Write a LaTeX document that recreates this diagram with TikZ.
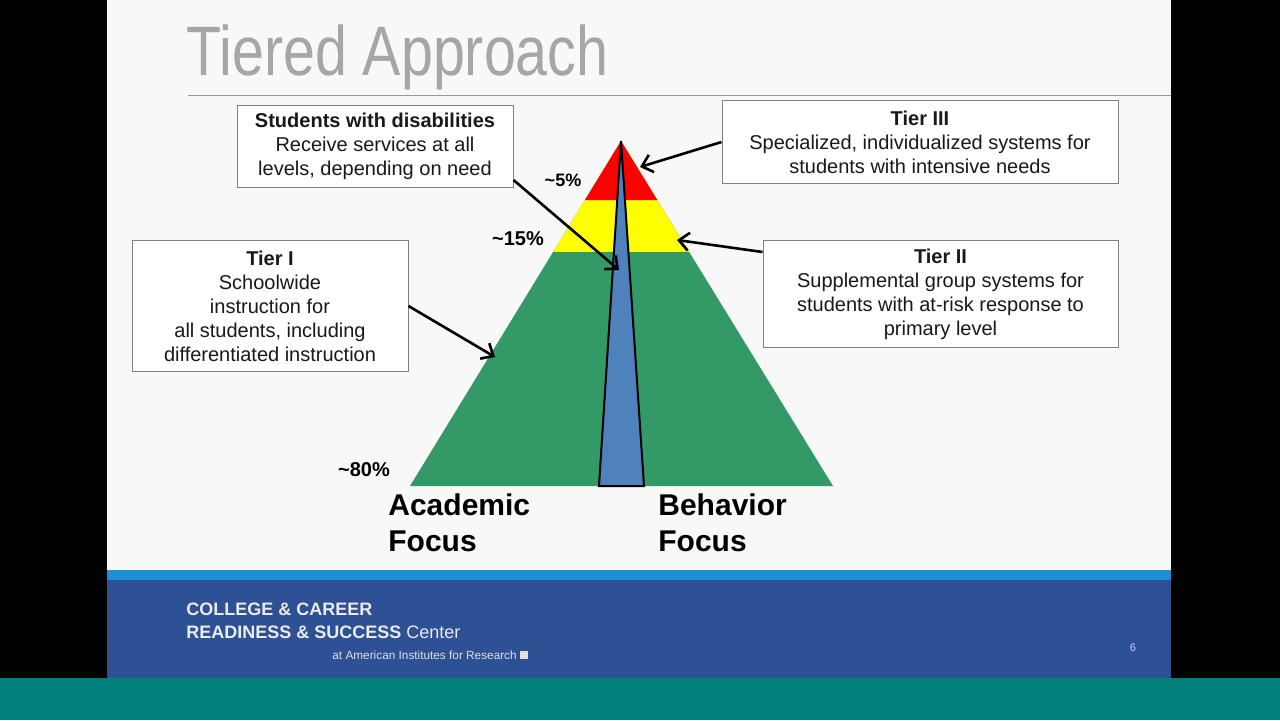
\documentclass[tikz,border=0pt]{standalone}
\usepackage{fontspec}
\setmainfont{Liberation Sans}
\newfontfamily\titlefont[FakeStretch=0.82]{Liberation Sans}
\usetikzlibrary{arrows.meta,calc}
\definecolor{slidebg}{HTML}{F8F8F8}
\definecolor{tiergreen}{HTML}{339966}
\definecolor{tieryellow}{HTML}{FFFF00}
\definecolor{tierred}{HTML}{FF0000}
\definecolor{wedgeblue}{HTML}{4F81BD}
\definecolor{stripeblue}{HTML}{1E8FD2}
\definecolor{footblue}{HTML}{2E5094}
\definecolor{footteal}{HTML}{007F7D}

\begin{document}
\begin{tikzpicture}[x=0.5pt,y=-0.5pt,
    infobox/.style={draw=black!50, fill=white, line width=0.5pt, align=center, inner sep=2pt, text=black!90, font=\fontsize{10}{12}\selectfont},
    pointer/.style={-{Straight Barb[length=5pt,width=9pt]}, line width=1.3pt},
    pct/.style={font=\bfseries\fontsize{10}{11}\selectfont, inner sep=0pt},
    focus/.style={font=\bfseries\fontsize{15}{18}\selectfont, align=left, anchor=west, inner sep=0pt}]
    \useasboundingbox (0,0) rectangle (1280,720);
    \fill[black] (0,0) rectangle (1280,720);
    \fill[slidebg] (107,0) rectangle (1171,570);
    \fill[stripeblue] (107,570) rectangle (1171,580);
    \fill[footblue] (107,580) rectangle (1171,678);
    \fill[footteal] (0,678) rectangle (1280,720);

    \node[anchor=base west, inner sep=0pt, text=black!35, font=\titlefont\fontsize{35}{40}\selectfont] (title) at (186,75) {Tiered Approach};
    \draw[black!40, line width=0.5pt] (188,95) -- (1171,95);

    \coordinate (apex) at (621,141);
    \coordinate (baseL) at (410,486);
    \coordinate (baseR) at (833,486);
    \fill[tiergreen] (apex) -- (baseL) -- (baseR) -- cycle;
    \fill[tieryellow] (apex) -- ($(apex)!0.3217!(baseL)$) -- ($(apex)!0.3217!(baseR)$) -- cycle;
    \fill[tierred] (apex) -- ($(apex)!0.171!(baseL)$) -- ($(apex)!0.171!(baseR)$) -- cycle;
    \draw[line width=1pt, fill=wedgeblue] (apex) -- (599,486) -- (644,486) -- cycle;

    \node[pct, font=\bfseries\fontsize{9}{10}\selectfont] (p5) at (563,180) {\textasciitilde5\%};
    \node[pct] (p15) at (518,239) {\textasciitilde15\%};
    \node[pct] (p80) at (364,470) {\textasciitilde80\%};

    \node[focus] (acad) at (388,523) {Academic\\Focus};
    \node[focus] (behav) at (658,523) {Behavior\\Focus};

    \node[infobox, minimum width=138pt, minimum height=41pt] (sd) at (375,146)
        {\textbf{Students with disabilities}\\Receive services at all\\levels, depending on need};
    \node[infobox, minimum width=198pt, minimum height=41.5pt] (t3) at (920,142)
        {\textbf{Tier III}\\Specialized, individualized systems for\\students with intensive needs};
    \node[infobox, minimum width=138pt, minimum height=65.5pt] (t1) at (270,306)
        {\textbf{Tier I}\\Schoolwide\\instruction for\\all students, including\\differentiated instruction};
    \node[infobox, minimum width=177.5pt, minimum height=53.5pt] (t2) at (940.5,294)
        {\textbf{Tier II}\\Supplemental group systems for\\students with at-risk response to\\primary level};

    \coordinate (sdtip) at (619,270);
    \coordinate (t3tip) at (640,167);
    \coordinate (t2tip) at (677,240);
    \coordinate (t1tip) at (495,357);
    \draw[pointer] ([yshift=-17pt]sd.east) -- (sdtip);
    \draw[pointer] (t3.west) -- (t3tip);
    \draw[pointer] ([yshift=-6pt]t2.north west) -- (t2tip);
    \draw[pointer] (t1.east) -- (t1tip);

    \node[anchor=base west, inner sep=0pt, text=white!92!black, font=\bfseries\fontsize{9}{10}\selectfont] (cc) at (186,615) {COLLEGE \& CAREER};
    \node[anchor=base west, inner sep=0pt, text=white!92!black, font=\fontsize{9}{10}\selectfont] (rs) at (186,638) {\textbf{READINESS \& SUCCESS} Center};
    \node[anchor=base east, inner sep=0pt, text=white!88!black, font=\fontsize{5.9}{6}\selectfont] (air) at (528,659) {at American Institutes for Research \rule{3.8pt}{3.8pt}};
    \node[inner sep=0pt, text=blue!20!white, font=\fontsize{5.5}{6}\selectfont] (pg) at (1133,648) {6};
\end{tikzpicture}
\end{document}
